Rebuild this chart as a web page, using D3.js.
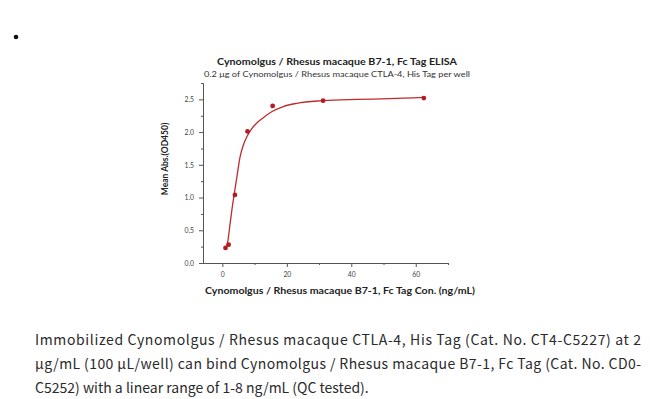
<!DOCTYPE html>
<html lang="en">
<head>
<meta charset="utf-8">
<title>B7-1 ELISA</title>
<script src="https://d3js.org/d3.v7.min.js"></script>
<style>
  body { margin:0; background:#fff; }
  .tick text { font-family:Lato, "Open Sans", sans-serif; font-size:6.8px; fill:#444; }
  .axis path, .axis line { stroke:#555; stroke-width:1; }
</style>
</head>
<body>
<svg width="650" height="399"></svg>
<script>
// measured points (ng/mL vs OD450)
var conc = [0.98, 1.95, 3.9, 7.8, 15.6, 31.25, 62.5];
var od = [0.23, 0.28, 1.04, 2.01, 2.40, 2.48, 2.52];
// fitted curve
var fitX = [0.98, 1.67, 2.4, 3.1, 3.7, 4.5, 5.5, 6.5, 7.6, 9.1, 10.7, 12.7, 15.3, 18.9, 23.1, 31.1, 41.7, 52, 62.5];
var fitY = [0.22, 0.32, 0.60, 0.86, 1.06, 1.31, 1.62, 1.80, 1.93, 2.05, 2.14, 2.22, 2.31, 2.39, 2.44, 2.48, 2.50, 2.51, 2.53];
var xTicks = [0, 20, 40, 60];
var xMinor = [10, 30, 50, 70];
var yTicks = [0, 0.5, 1.0, 1.5, 2.0, 2.5];
var yMinor = [0.25, 0.75, 1.25, 1.75, 2.25, 2.75];
var paragraph = [
  "Immobilized Cynomolgus / Rhesus macaque CTLA-4, His Tag (Cat. No. CT4-C5227) at 2",
  "\u03bcg/mL (100 \u03bcL/well) can bind Cynomolgus / Rhesus macaque B7-1, Fc Tag (Cat. No. CD0-",
  "C5252) with a linear range of 1-8 ng/mL (QC tested)."
];

var svg = d3.select("svg");
var red = "#bf2a2e";

var x = d3.scaleLinear().domain([-6, 70]).range([203, 448]);
var y = d3.scaleLinear().domain([0, 2.75]).range([263, 83]);

// bullet
svg.append("circle").attr("cx", 16).attr("cy", 37).attr("r", 2.3).attr("fill", "#111");

// axes
svg.append("g").attr("class", "axis").attr("transform", "translate(0,263)")
  .call(d3.axisBottom(x).tickValues(xMinor).tickSize(2).tickSizeOuter(0).tickFormat(""));
svg.append("g").attr("class", "axis").attr("transform", "translate(0,263)")
  .call(d3.axisBottom(x).tickValues(xTicks).tickSize(4).tickSizeOuter(0).tickPadding(5));
svg.append("g").attr("class", "axis").attr("transform", "translate(203,0)")
  .call(d3.axisLeft(y).tickValues(yMinor).tickSize(2).tickSizeOuter(0).tickFormat(""));
svg.append("g").attr("class", "axis").attr("transform", "translate(203,0)")
  .call(d3.axisLeft(y).tickValues(yTicks).tickSize(4).tickSizeOuter(0).tickPadding(5).tickFormat(d3.format(".1f")));

// fit curve
var line = d3.line().x(function(d){ return x(d[0]); }).y(function(d){ return y(d[1]); })
  .curve(d3.curveMonotoneX);
svg.append("path").datum(d3.zip(fitX, fitY))
  .attr("d", line).attr("fill", "none").attr("stroke", red).attr("stroke-width", 1.3);

// points
svg.selectAll(".pt").data(d3.zip(conc, od)).enter().append("circle")
  .attr("class", "pt")
  .attr("cx", function(d){ return x(d[0]); })
  .attr("cy", function(d){ return y(d[1]); })
  .attr("r", 2.4).attr("fill", "#b01e24");

// titles
svg.append("text").attr("x", 337).attr("y", 65).attr("text-anchor", "middle")
  .attr("textLength", 240).attr("lengthAdjust", "spacingAndGlyphs")
  .style("font-family", "Lato, sans-serif").style("font-weight", "bold").style("font-size", "10.2px").attr("fill", "#222")
  .text("Cynomolgus / Rhesus macaque B7-1, Fc Tag ELISA");
svg.append("text").attr("x", 337).attr("y", 77).attr("text-anchor", "middle")
  .attr("textLength", 266).attr("lengthAdjust", "spacingAndGlyphs")
  .style("font-family", "Lato, sans-serif").style("font-size", "8px").attr("fill", "#333")
  .text("0.2 \u03bcg of Cynomolgus / Rhesus macaque CTLA-4, His Tag per well");
svg.append("text").attr("transform", "translate(168,159) rotate(-90)").attr("text-anchor", "middle")
  .style("font-family", "Lato, sans-serif").style("font-weight", "bold").style("font-size", "8.5px").attr("fill", "#222")
  .text("Mean Abs.(OD450)");
svg.append("text").attr("x", 340).attr("y", 294).attr("text-anchor", "middle")
  .attr("textLength", 270).attr("lengthAdjust", "spacingAndGlyphs")
  .style("font-family", "Lato, sans-serif").style("font-weight", "bold").style("font-size", "10.2px").attr("fill", "#222")
  .text("Cynomolgus / Rhesus macaque B7-1, Fc Tag Con. (ng/mL)");

// paragraph
var para = svg.append("g").style("font-family", "\"Noto Sans CJK SC\", sans-serif")
  .style("font-size", "14px").attr("fill", "#2a2a2a");
para.selectAll("text").data(paragraph).enter().append("text")
  .attr("x", 35)
  .attr("y", function(d, i){ return 345 + i * 24; })
  .attr("textLength", function(d, i){ return i < 2 ? 606 : null; })
  .attr("lengthAdjust", "spacing")
  .text(function(d){ return d; });
</script>
</body>
</html>
